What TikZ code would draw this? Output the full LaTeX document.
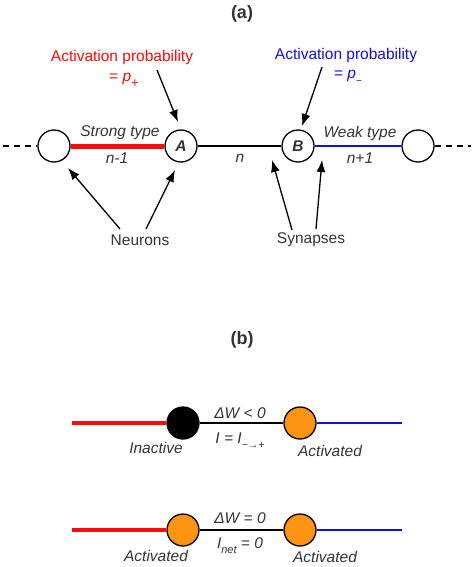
\documentclass[tikz,border=0pt]{standalone}
\usepackage{fontspec}
\setmainfont{Liberation Sans}
\usetikzlibrary{arrows.meta}
\definecolor{txt}{HTML}{333333}
\definecolor{myred}{HTML}{FF0A0A}
\definecolor{myblue}{HTML}{1010D8}
\definecolor{myorange}{HTML}{FF9412}
\begin{document}
\begin{tikzpicture}[x=1pt,y=-1pt,
  font=\fontsize{15.5}{18}\selectfont,
  neuron/.style={circle,draw=black,line width=1.3pt,fill=white,minimum size=32pt,inner sep=0pt,text=txt},
  lab/.style={text=txt,inner sep=0pt},
  itlab/.style={lab,font=\fontsize{15.5}{18}\selectfont\itshape},
  title/.style={text=txt,font=\fontsize{18}{20}\selectfont\bfseries},
  redline/.style={myred,line width=5pt},
  blueline/.style={myblue,line width=2.3pt},
  blackline/.style={black,line width=2pt},
  dashline/.style={black,line width=2pt,dash pattern=on 6pt off 5pt},
  arr/.style={black,line width=1.3pt,-{Latex[length=12pt,width=9pt]}}
]
\useasboundingbox (0,0) rectangle (474,567);

% ---------- (a) ----------
\node[title] (ta) at (242,14) {(a)};

\node[neuron] (L) at (54,146) {};
\node[neuron] (A) at (181,146) {\bfseries\itshape A};
\node[neuron] (B) at (298,146) {\bfseries\itshape B};
\node[neuron] (R) at (418,146) {};
\coordinate (dl) at (3,146);
\coordinate (dr) at (471,146);
\draw[dashline] (dl) -- (L);
\draw[dashline] (R) -- (dr);
\draw[redline] (L) -- (A);
\draw[blackline] (A) -- (B);
\draw[blueline] (B) -- (R);

\node[itlab] (st) at (120,133) {Strong type};
\node[itlab] (n1) at (117,158) {n-1};
\node[itlab] (n) at (240,158) {n};
\node[itlab] (wt) at (360,133) {Weak type};
\node[itlab] (n2) at (360,158) {n+1};

\node[lab,text=myred] (apr) at (122,57) {Activation probability};
\node[lab,text=myred] (ppl) at (124,80) {= \textit{p}\raisebox{-0.7ex}{\fontsize{13}{13}\selectfont +}};
\node[lab,text=myblue] (apb) at (346,55) {Activation probability};
\node[lab,text=myblue] (pmi) at (348,77) {= \textit{p}\raisebox{-0.7ex}{\fontsize{10}{10}\selectfont −}};

\coordinate (s1) at (157,70);  \coordinate (e1) at (178,122);
\coordinate (s2) at (322,67);  \coordinate (e2) at (302,126);
\draw[arr] (s1) -- (e1);
\draw[arr] (s2) -- (e2);

\node[lab] (neur) at (140,240) {Neurons};
\node[lab] (syn) at (311,240) {Synapses};
\coordinate (nt1) at (68,168);  \coordinate (ns1) at (120,229);
\coordinate (nt2) at (175,170); \coordinate (ns2) at (146,229);
\coordinate (st1) at (272,160); \coordinate (ss1) at (292,230);
\coordinate (st2) at (322,160); \coordinate (ss2) at (316,229);
\draw[arr] (ns1) -- (nt1);
\draw[arr] (ns2) -- (nt2);
\draw[arr] (ss1) -- (st1);
\draw[arr] (ss2) -- (st2);

% ---------- (b) ----------
\node[title] (tb) at (242,340) {(b)};

% row 1
\node[neuron,fill=black] (K1) at (183,423) {};
\node[neuron,fill=myorange] (O1) at (300,423) {};
\coordinate (r1l) at (72,423);
\coordinate (r1r) at (402,423);
\draw[myred,line width=4.5pt] (r1l) -- (K1);
\draw[blackline] (K1) -- (O1);
\draw[blueline] (O1) -- (r1r);
\node[itlab] (dw1) at (240,413) {ΔW < 0};
\node[itlab] (i1) at (240,441) {I = I\raisebox{-0.6ex}{\fontsize{10.5}{10.5}\selectfont −→+}};
\node[itlab] (in1) at (156,448) {Inactive};
\node[itlab] (ac1) at (330,451) {Activated};

% row 2
\node[neuron,fill=myorange] (O2) at (183,530) {};
\node[neuron,fill=myorange] (O3) at (300,530) {};
\coordinate (r2l) at (72,530);
\coordinate (r2r) at (402,530);
\draw[myred,line width=4.5pt] (r2l) -- (O2);
\draw[blackline] (O2) -- (O3);
\draw[blueline] (O3) -- (r2r);
\node[itlab] (dw2) at (240,518) {ΔW = 0};
\node[itlab] (i2) at (240,546) {I\raisebox{-0.6ex}{\fontsize{11}{11}\selectfont net} = 0};
\node[itlab] (ac2) at (156,556) {Activated};
\node[itlab] (ac3) at (325,557) {Activated};
\end{tikzpicture}
\end{document}
